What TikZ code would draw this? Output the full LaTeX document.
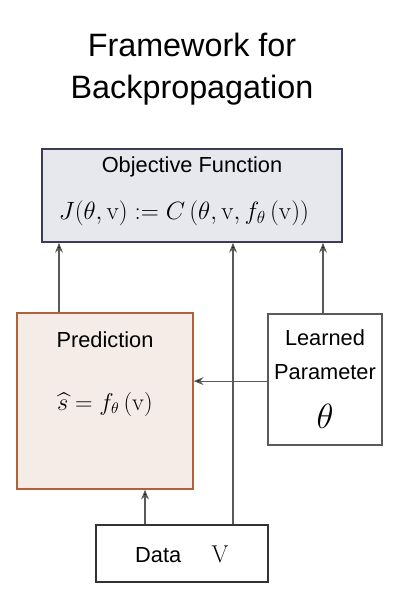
\documentclass[tikz,border=0pt]{standalone}
\usepackage{amsmath}
\usepackage[no-math]{fontspec}
\setmainfont{Liberation Sans}
\usetikzlibrary{arrows.meta}
\definecolor{objfill}{RGB}{231, 231, 238}
\definecolor{objline}{RGB}{60, 60, 90}
\definecolor{predfill}{RGB}{245, 235, 231}
\definecolor{predline}{RGB}{178, 98, 58}
\definecolor{linegray}{RGB}{90, 90, 90}

\begin{document}
\begin{tikzpicture}[
    box/.style={draw=linegray, line width=0.9pt, inner sep=0pt},
    arr/.style={draw=linegray, line width=0.8pt, -{Stealth[length=7pt, width=5.5pt, fill=black]}},
    lbl/.style={font=\fontsize{15.5}{18}\selectfont}
]
    \useasboundingbox (0,0) rectangle (10,15);

    % title
    \node[font=\fontsize{23}{27}\selectfont] (t1) at (4.8,13.875) {Framework for};
    \node[font=\fontsize{23}{27}\selectfont] (t2) at (4.8,12.75) {Backpropagation};

    % boxes
    \node[box, draw=objline, fill=objfill, minimum width=7.5cm, minimum height=2.325cm] (obj) at (4.8,10.11) {};
    \node[lbl] (objt) at (4.8,10.82) {Objective Function};
    \node[font=\fontsize{18}{21}\selectfont, scale=1.03] (objf) at (4.6,9.67) {$J(\theta,\mathrm{v}) := C\left(\theta,\mathrm{v},f_\theta\left(\mathrm{v}\right)\right)$};

    \node[box, draw=predline, fill=predfill, minimum width=4.4cm, minimum height=4.4cm] (pred) at (2.625,4.975) {};
    \node[lbl] (predt) at (2.625,6.5) {Prediction};
    \node[font=\fontsize{16}{19}\selectfont] (predf) at (2.625,4.9) {$\widehat{s} = f_\theta\left(\mathrm{v}\right)$};

    \node[box, fill=white, minimum width=2.85cm, minimum height=3.275cm] (learn) at (8.125,5.5125) {};
    \node[lbl] (learnt) at (8.125,6.55) {Learned};
    \node[lbl] (learnp) at (8.125,5.7) {Parameter};
    \node[font=\fontsize{26}{30}\selectfont] (learnf) at (8.125,4.6) {$\theta$};

    \node[box, draw=black!80, fill=white, minimum width=4.3cm, minimum height=1.425cm] (data) at (4.55,1.1625) {};
    \node[lbl] (datat) at (4.55,1.15) {Data\hspace{1.4em}{\fontsize{18}{21}\selectfont$\mathrm{V}$}};

    % connectors
    \coordinate (pv) at ([xshift=-1.15cm]pred.north);
    \coordinate (dv) at ([xshift=-0.925cm]data.north);
    \coordinate (vl) at (5.825,0);

    \draw[arr] (pv) -- (pv |- obj.south);
    \draw[arr] (data.north -| vl) -- (obj.south -| vl);
    \draw[arr] ([xshift=-0.05cm]learn.north) -- ([xshift=-0.05cm]learn.north |- obj.south);
    \draw[arr] ([yshift=-0.04cm]learn.west) -- ([yshift=-0.04cm]learn.west -| pred.east);
    \draw[arr] (dv) -- (dv |- pred.south);
\end{tikzpicture}
\end{document}
